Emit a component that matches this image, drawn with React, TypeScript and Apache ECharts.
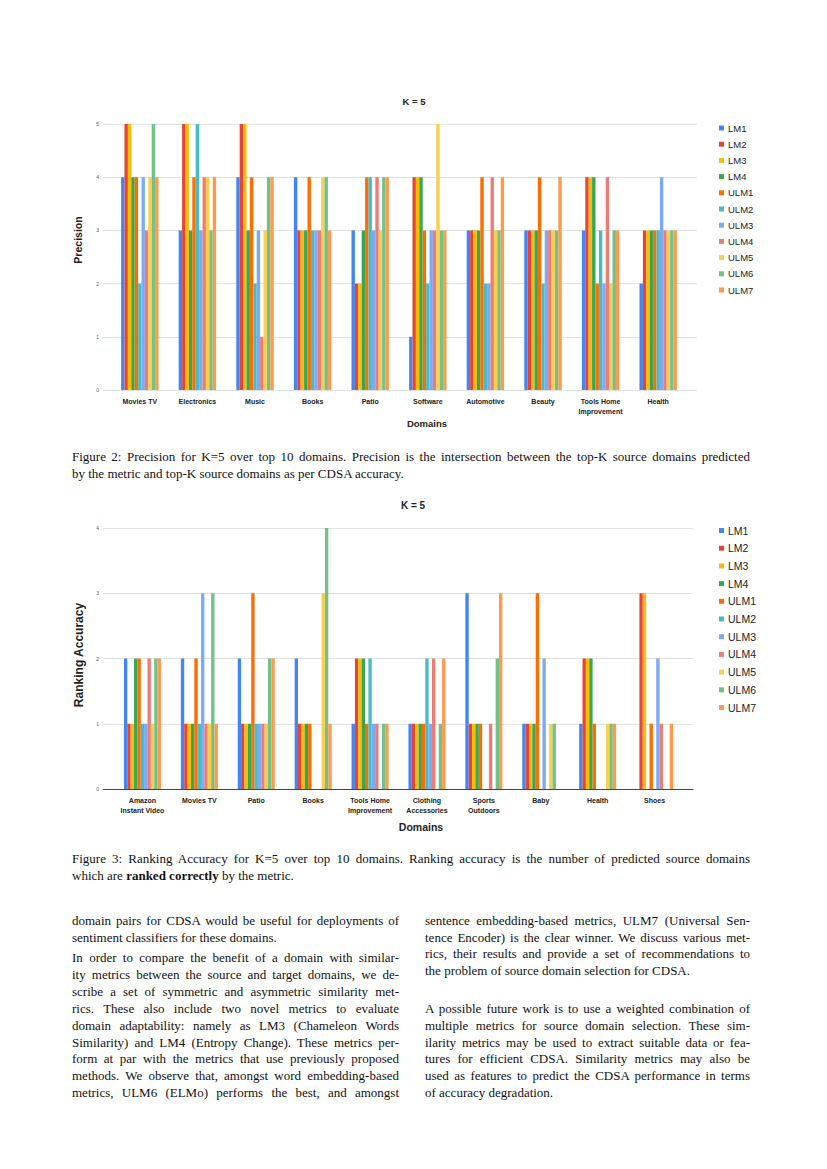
import React, { useEffect, useRef } from "react";
import * as echarts from "echarts";

const metrics = ["LM1", "LM2", "LM3", "LM4", "ULM1", "ULM2", "ULM3", "ULM4", "ULM5", "ULM6", "ULM7"];
const colors = ["#4285f4", "#ea4335", "#fbbc04", "#34a853", "#ff6d01", "#46bdc6", "#7baaf7", "#f07b72", "#fcd04f", "#71c287", "#ff994d"];

const categories1 = ["Movies TV", "Electronics", "Music", "Books", "Patio", "Software", "Automotive", "Beauty", "Tools Home\nImprovement", "Health"];
const categories2 = ["Amazon\nInstant Video", "Movies TV", "Patio", "Books", "Tools Home\nImprovement", "Clothing\nAccessories", "Sports\nOutdoors", "Baby", "Health", "Shoes"];

const yTicks1 = [0, 1, 2, 3, 4, 5];
const yTicks2 = [0, 1, 2, 3, 4];

// Figure 2: Precision (K=5)
const precLM1 = [4, 3, 4, 4, 3, 1, 3, 3, 3, 2];
const precLM2 = [5, 5, 5, 3, 2, 4, 3, 3, 4, 3];
const precLM3 = [5, 5, 5, 3, 2, 4, 3, 3, 4, 3];
const precLM4 = [4, 3, 3, 3, 3, 4, 3, 3, 4, 3];
const precULM1 = [4, 4, 4, 4, 4, 3, 4, 4, 2, 3];
const precULM2 = [2, 5, 2, 3, 4, 2, 2, 2, 3, 3];
const precULM3 = [4, 3, 3, 3, 3, 3, 2, 3, 2, 4];
const precULM4 = [3, 4, 1, 3, 4, 3, 4, 3, 4, 3];
const precULM5 = [4, 4, 3, 4, 3, 5, 3, 3, 2, 3];
const precULM6 = [5, 3, 4, 4, 4, 3, 3, 3, 3, 3];
const precULM7 = [4, 4, 4, 3, 4, 3, 4, 4, 3, 3];

// Figure 3: Ranking accuracy (K=5)
const rankLM1 = [2, 2, 2, 2, 1, 1, 3, 1, 1, 0];
const rankLM2 = [1, 1, 1, 1, 2, 1, 1, 1, 2, 3];
const rankLM3 = [1, 1, 1, 1, 2, 1, 1, 1, 2, 3];
const rankLM4 = [2, 1, 1, 1, 2, 1, 1, 1, 2, 0];
const rankULM1 = [2, 2, 3, 1, 1, 1, 1, 3, 1, 1];
const rankULM2 = [1, 1, 1, 0, 2, 2, 0, 0, 0, 0];
const rankULM3 = [1, 3, 1, 0, 1, 1, 0, 2, 0, 2];
const rankULM4 = [2, 1, 1, 0, 1, 2, 1, 0, 0, 1];
const rankULM5 = [1, 1, 1, 3, 0, 0, 0, 1, 1, 0];
const rankULM6 = [2, 3, 2, 4, 1, 1, 2, 1, 1, 0];
const rankULM7 = [2, 1, 2, 1, 1, 2, 3, 0, 1, 1];

const precision = [precLM1, precLM2, precLM3, precLM4, precULM1, precULM2, precULM3, precULM4, precULM5, precULM6, precULM7];
const ranking = [rankLM1, rankLM2, rankLM3, rankLM4, rankULM1, rankULM2, rankULM3, rankULM4, rankULM5, rankULM6, rankULM7];

const SANS = "'Liberation Sans', Arial, sans-serif";
const SERIF = "'Liberation Serif', 'Times New Roman', serif";

type Line = { text: React.ReactNode; x: number; y: number; w: number; justify: boolean };

const captionLines: Line[] = [
  { text: "Figure 2: Precision for K=5 over top 10 domains. Precision is the intersection between the top-K source domains predicted", x: 72, y: 456, w: 678, justify: true },
  { text: "by the metric and top-K source domains as per CDSA accuracy.", x: 72, y: 473, w: 678, justify: false },
  { text: "Figure 3: Ranking Accuracy for K=5 over top 10 domains. Ranking accuracy is the number of predicted source domains", x: 72, y: 858, w: 678, justify: true },
  { text: <>which are <b>ranked correctly</b> by the metric.</>, x: 72, y: 875, w: 678, justify: false },
];

const leftLines: [string, boolean][] = [
  ["domain pairs for CDSA would be useful for deployments of", true],
  ["sentiment classifiers for these domains.", false],
  ["In order to compare the benefit of a domain with similar-", true],
  ["ity metrics between the source and target domains, we de-", true],
  ["scribe a set of symmetric and asymmetric similarity met-", true],
  ["rics.  These also include two novel metrics to evaluate", true],
  ["domain adaptability:  namely as LM3 (Chameleon Words", true],
  ["Similarity) and LM4 (Entropy Change). These metrics per-", true],
  ["form at par with the metrics that use previously proposed", true],
  ["methods. We observe that, amongst word embedding-based", true],
  ["metrics, ULM6 (ELMo) performs the best, and amongst", true],
];
const leftY = [920, 937, 957, 974, 991, 1008, 1025, 1042, 1058, 1075, 1092];

const rightLines: [string, boolean][] = [
  ["sentence embedding-based metrics, ULM7 (Universal Sen-", true],
  ["tence Encoder) is the clear winner. We discuss various met-", true],
  ["rics, their results and provide a set of recommendations to", true],
  ["the problem of source domain selection for CDSA.", false],
  ["A possible future work is to use a weighted combination of", true],
  ["multiple metrics for source domain selection.  These sim-", true],
  ["ilarity metrics may be used to extract suitable data or fea-", true],
  ["tures for efficient CDSA. Similarity metrics may also be", true],
  ["used as features to predict the CDSA performance in terms", true],
  ["of accuracy degradation.", false],
];
const rightY = [920, 937, 953, 970, 1008, 1025, 1042, 1058, 1075, 1092];

const allLines: Line[] = [
  ...captionLines,
  ...leftLines.map(([t, j], i) => ({ text: t, x: 72, y: leftY[i], w: 327, justify: j })),
  ...rightLines.map(([t, j], i) => ({ text: t, x: 425, y: rightY[i], w: 325, justify: j })),
];

function makeOption() {
  const bar = (name: string, i: number, data: number[], axis: number) => ({
    name,
    type: "bar",
    xAxisIndex: axis,
    yAxisIndex: axis,
    data,
    barGap: "0%",
    barCategoryGap: "35%",
    itemStyle: { color: colors[i] },
  });
  const legend = (top: number, fs: number, lh: number, gap: number) => ({
    orient: "vertical",
    left: 714,
    top,
    icon: "rect",
    itemWidth: 5,
    itemHeight: 5,
    itemGap: gap,
    data: metrics,
    textStyle: { fontFamily: SANS, fontSize: fs, lineHeight: lh, color: "#222", padding: [0, 0, 0, -1] },
  });
  const gridText = (text: string, x: number, y: number, size: number, rotate = 0) => ({
    type: "text",
    x,
    y,
    rotation: rotate,
    style: { text, fontFamily: SANS, fontWeight: "bold", fontSize: size, fill: "#222", align: "center", verticalAlign: "middle" },
  });
  const valueAxisSplit = (grid: number, max: number) => ({
    gridIndex: grid,
    type: "value",
    min: 0,
    max,
    interval: 1,
    axisLine: { show: false },
    axisTick: { show: false },
    axisLabel: { fontSize: 5, color: "#555", margin: 4, fontFamily: SANS },
    splitLine: { lineStyle: { color: "#e2e2e2", width: 1 } },
  });
  return {
    animation: false,
    backgroundColor: "#fff",
    grid: [
      { left: 103, top: 124, width: 594, height: 266 },
      { left: 111, top: 124, width: 576, height: 266 },
      { left: 103, top: 528, width: 590, height: 261 },
      { left: 114, top: 528, width: 569, height: 261 },
    ],
    xAxis: [
      { gridIndex: 0, type: "value", min: 0, max: 1, show: false },
      {
        gridIndex: 1,
        type: "category",
        data: categories1,
        axisLine: { show: false },
        axisTick: { show: false },
        axisLabel: { fontSize: 7, fontWeight: "bold", color: "#222", margin: 6, lineHeight: 10, fontFamily: SANS, interval: 0 },
      },
      {
        gridIndex: 2,
        type: "value",
        min: 0,
        max: 1,
        axisLine: { show: true, lineStyle: { color: "#444", width: 1 } },
        axisTick: { show: false },
        axisLabel: { show: false },
        splitLine: { show: false },
      },
      {
        gridIndex: 3,
        type: "category",
        data: categories2,
        axisLine: { show: false },
        axisTick: { show: false },
        axisLabel: { fontSize: 7, fontWeight: "bold", color: "#222", margin: 6, lineHeight: 10, fontFamily: SANS, interval: 0 },
      },
    ],
    yAxis: [
      { ...valueAxisSplit(0, yTicks1[yTicks1.length - 1]) },
      { gridIndex: 1, type: "value", min: 0, max: yTicks1[yTicks1.length - 1], interval: 1, show: false },
      { ...valueAxisSplit(2, yTicks2[yTicks2.length - 1]) },
      { gridIndex: 3, type: "value", min: 0, max: yTicks2[yTicks2.length - 1], interval: 1, show: false },
    ],
    legend: [legend(118, 9.5, 10, 6.2), legend(520, 10.5, 11, 6.7)],
    graphic: [
      gridText("K = 5", 414, 101, 9.5),
      gridText("Precision", 78, 240, 10.5, Math.PI / 2),
      gridText("Domains", 427, 423, 9.5),
      gridText("K = 5", 413, 505, 10),
      gridText("Ranking Accuracy", 79, 655, 12, Math.PI / 2),
      gridText("Domains", 421, 827, 10.5),
    ],
    series: [
      ...metrics.map((m, i) => bar(m, i, precision[i], 1)),
      ...metrics.map((m, i) => bar(m, i, ranking[i], 3)),
    ],
  };
}

export default function App() {
  const ref = useRef<HTMLDivElement>(null);
  useEffect(() => {
    if (!ref.current) return;
    const chart = echarts.init(ref.current, undefined, { renderer: "svg" });
    chart.setOption(makeOption() as any);
    return () => chart.dispose();
  }, []);
  return (
    <div style={{ position: "absolute", left: 0, top: 0, width: 827, height: 1169, background: "#fff", overflow: "hidden" }}>
      <div ref={ref} style={{ position: "absolute", left: 0, top: 0, width: 827, height: 1169 }} />
      {allLines.map((l, i) => (
        <div
          key={i}
          style={{
            position: "absolute",
            left: l.x,
            top: l.y - 8.5,
            width: l.w,
            height: 17,
            lineHeight: "17px",
            fontFamily: SERIF,
            fontSize: 13,
            color: "#111",
            whiteSpace: "nowrap",
            textAlign: l.justify ? "justify" : "left",
            textAlignLast: l.justify ? "justify" : "left",
          } as React.CSSProperties}
        >
          {l.text}
        </div>
      ))}
    </div>
  );
}
